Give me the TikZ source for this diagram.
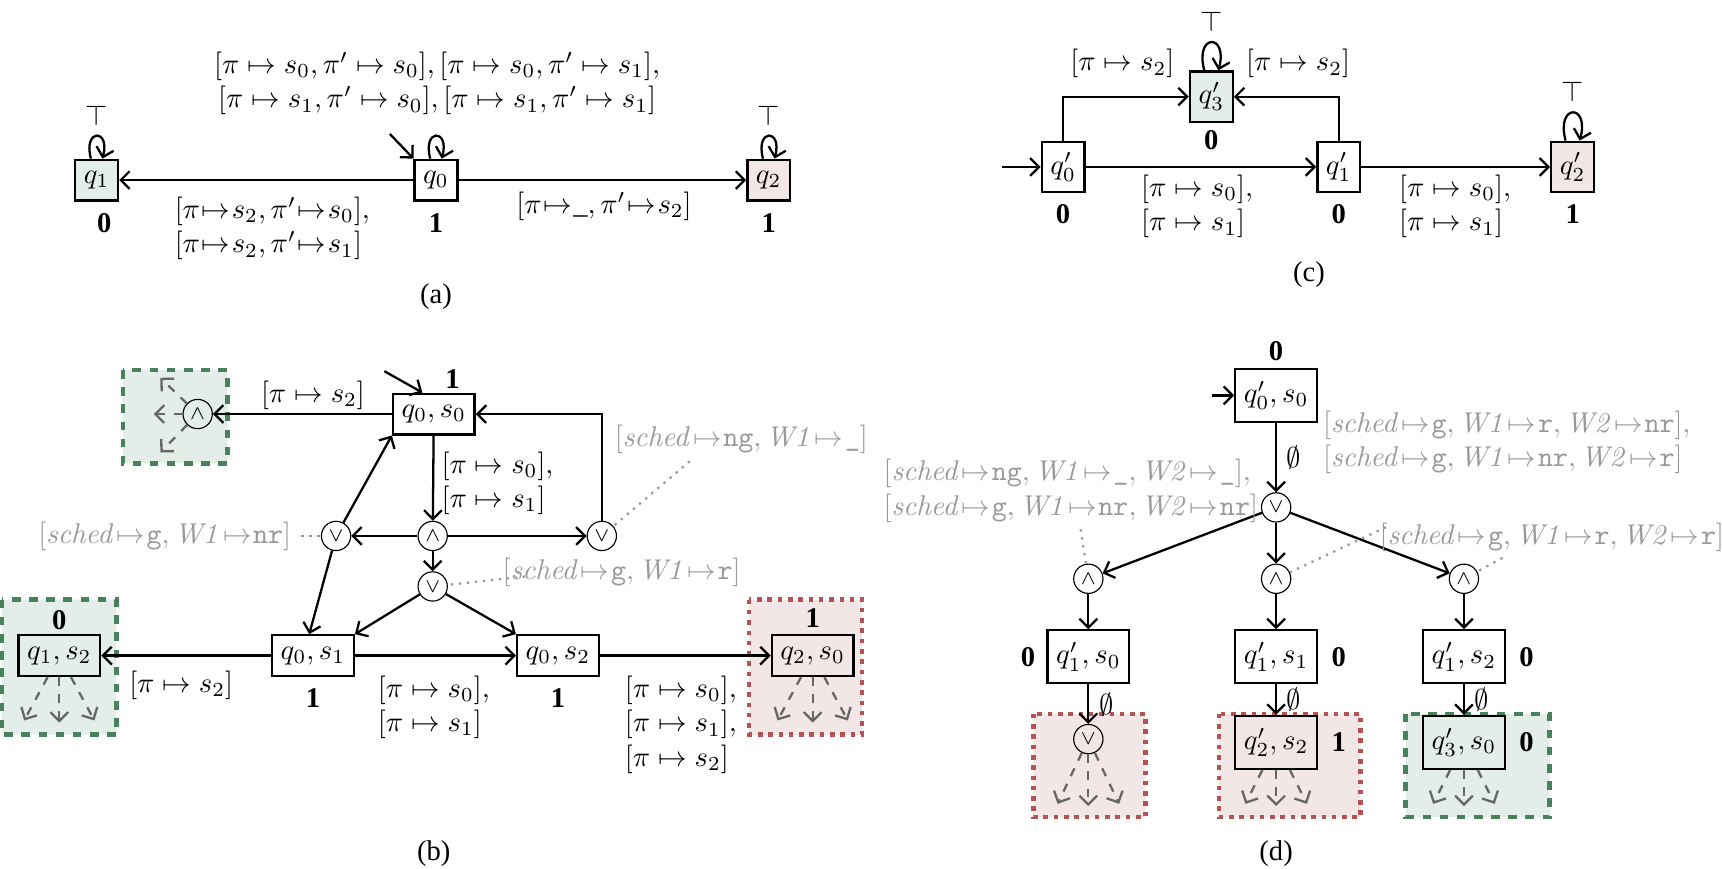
\documentclass[tikz,border=0pt]{standalone}
\usepackage{amsmath}
\usepackage[no-math]{fontspec}
\setmainfont{Liberation Serif}
\usetikzlibrary{arrows.meta}
\definecolor{gfill}{RGB}{228,238,232}
\definecolor{gline}{RGB}{72,130,92}
\definecolor{rfill}{RGB}{243,230,230}
\definecolor{rline}{RGB}{178,84,84}
\newcommand{\sch}{\mathit{sched}}
\newcommand{\gm}{\mathbin{\!\mapsto\!}}
\begin{document}
\begin{tikzpicture}[x=0.0135cm,y=-0.0135cm,>=Straight Barb,
  st/.style={draw,thick,rectangle,minimum height=0.5cm,inner sep=3pt},
  op/.style={draw,circle,minimum size=0.36cm,inner sep=0pt,font=\scriptsize},
  ed/.style={->,thick},
  gl/.style={text=black!40},
  dl/.style={dotted,thick,black!40},
  sub/.style={->,dashed,thick,black!60},
  w/.style={font=\bfseries}]
\useasboundingbox (0,0) rectangle (1568,791);

% ---------- (a)
\node[st,fill=gfill] (a1) at (88,164) {$q_1$};
\node[st] (a0) at (397,164) {$q_0$};
\node[st,fill=rfill] (a2) at (700,164) {$q_2$};
\node[w] (wa1) at (95,203) {0};
\node[w] (wa0) at (397,203) {1};
\node[w] (wa2) at (700,203) {1};
\coordinate (ai) at (355,122);
\draw[ed] (ai) -- (a0.north west);
\draw[ed] (a1) edge[loop above,looseness=7] node (ta1) {$\top$} (a1);
\draw[ed] (a2) edge[loop above,looseness=7] node (ta2) {$\top$} (a2);
\draw[ed] (a0) edge[loop above,looseness=7] (a0);
\draw[ed] (a0) -- (a1);
\draw[ed] (a0) -- (a2);
\node[align=center] (la0) at (398,76) {$[\pi\mapsto s_0,\pi'\mapsto s_0],[\pi\mapsto s_0,\pi'\mapsto s_1],$\\$[\pi\mapsto s_1,\pi'\mapsto s_0],[\pi\mapsto s_1,\pi'\mapsto s_1]$};
\node[align=left] (la1) at (248,208) {$[\pi\gm s_2,\pi'\gm s_0],$\\$[\pi\gm s_2,\pi'\gm s_1]$};
\node (la2) at (550,188) {$[\pi\gm \_,\pi'\gm s_2]$};
\node (capa) at (397,270) {(a)};

% ---------- (c)
\node[st,minimum height=0.62cm] (c0) at (968,152) {$q'_0$};
\node[st,minimum height=0.62cm,fill=gfill] (c3) at (1103,88) {$q'_3$};
\node[st,minimum height=0.62cm] (c1) at (1219,152) {$q'_1$};
\node[st,minimum height=0.62cm,fill=rfill] (c2) at (1432,152) {$q'_2$};
\node[w] (wc0) at (968,195) {0};
\node[w] (wc3) at (1103,128) {0};
\node[w] (wc1) at (1219,195) {0};
\node[w] (wc2) at (1432,195) {1};
\coordinate (ci) at (912,152);
\draw[ed] (ci) -- (c0);
\draw[ed] (c0) -- (c1);
\draw[ed] (c1) -- (c2);
\draw[ed] (c0) |- (c3);
\draw[ed] (c1) |- (c3);
\draw[ed] (c3) edge[loop above,looseness=7] node (tc3) {$\top$} (c3);
\draw[ed] (c2) edge[loop above,looseness=7] node (tc2) {$\top$} (c2);
\node (lc03) at (1022,58) {$[\pi\mapsto s_2]$};
\node (lc13) at (1182,58) {$[\pi\mapsto s_2]$};
\node[align=left] (lc01) at (1090,188) {$[\pi\mapsto s_0],$\\$[\pi\mapsto s_1]$};
\node[align=left] (lc12) at (1325,188) {$[\pi\mapsto s_0],$\\$[\pi\mapsto s_1]$};
\node (capc) at (1192,250) {(c)};

% ---------- (b)
\fill[gfill] (112,337) rectangle (207,422) (2,546) rectangle (106,669);
\fill[rfill] (682,546) rectangle (785,669);
\draw[gline,dashed,line width=1.6pt] (112,337) rectangle (207,422) (2,546) rectangle (106,669);
\draw[rline,dotted,line width=1.6pt] (682,546) rectangle (785,669);
\node[st] (b00) at (395,377) {$q_0,s_0$};
\node[st] (b01) at (285,597) {$q_0,s_1$};
\node[st] (b02) at (508,597) {$q_0,s_2$};
\node[st] (b12) at (54,597) {$q_1,s_2$};
\node[st] (b20) at (740,597) {$q_2,s_0$};
\node[op] (bat) at (180,377) {$\wedge$};
\node[op] (bol) at (306,488) {$\vee$};
\node[op] (bac) at (394,488) {$\wedge$};
\node[op] (bor) at (548,488) {$\vee$};
\node[op] (bod) at (394,534) {$\vee$};
\node[w] (wb00) at (412,345) {1};
\node[w] (wb01) at (285,636) {1};
\node[w] (wb02) at (508,636) {1};
\node[w] (wb12) at (54,565) {0};
\node[w] (wb20) at (740,563) {1};
\coordinate (bi) at (350,338);
\draw[ed] (bi) -- (b00.118);
\draw[ed] (b00) -- (bat);
\draw[ed] (b00) -- (bac);
\draw[ed] (bac) -- (bol);
\draw[ed] (bac) -- (bor);
\draw[ed] (bac) -- (bod);
\draw[ed] (bor) |- (b00);
\draw[ed] (bol) -- (b00.south west);
\draw[ed] (bol) -- (b01.100);
\draw[ed] (bod) -- (b01.north east);
\draw[ed] (bod) -- (b02.north west);
\draw[ed] (b01) -- (b12);
\draw[ed] (b01) -- (b02);
\draw[ed] (b02) -- (b20);
\node (lb1) at (285,360) {$[\pi\mapsto s_2]$};
\node[align=left] (lb2) at (453,440) {$[\pi\mapsto s_0],$\\$[\pi\mapsto s_1]$};
\node (lb3) at (165,624) {$[\pi\mapsto s_2]$};
\node[align=left] (lb4) at (395,644) {$[\pi\mapsto s_0],$\\$[\pi\mapsto s_1]$};
\node[align=left] (lb5) at (620,660) {$[\pi\mapsto s_0],$\\$[\pi\mapsto s_1],$\\$[\pi\mapsto s_2]$};
\node[gl] (gb1) at (150,488) {$[\sch\gm\texttt{g},\mathit{W1}\gm\texttt{nr}]$};
\node[gl] (gb2) at (675,400) {$[\sch\gm\texttt{ng},\mathit{W1}\gm\texttt{\_}]$};
\node[gl] (gb3) at (566,521) {$[\sch\gm\texttt{g},\mathit{W1}\gm\texttt{r}]$};
\coordinate (gb2e) at (628,420);
\coordinate (gb3e) at (478,525);
\draw[dl] (gb1) -- (bol);
\draw[dl] (gb2e) -- (bor);
\draw[dl] (gb3e) -- (bod);
\coordinate (s1) at (146,344); \coordinate (s2) at (140,377); \coordinate (s3) at (146,412);
\draw[sub] (bat) -- (s1); \draw[sub] (bat) -- (s2); \draw[sub] (bat) -- (s3);
\coordinate (s4) at (22,656); \coordinate (s5) at (54,658); \coordinate (s6) at (86,656);
\draw[sub] (b12) -- (s4); \draw[sub] (b12) -- (s5); \draw[sub] (b12) -- (s6);
\coordinate (s7) at (708,656); \coordinate (s8) at (740,658); \coordinate (s9) at (772,656);
\draw[sub] (b20) -- (s7); \draw[sub] (b20) -- (s8); \draw[sub] (b20) -- (s9);
\node (capb) at (395,777) {(b)};

% ---------- (d)
\fill[rfill] (941,650) rectangle (1043,744) (1110,650) rectangle (1239,744);
\fill[gfill] (1280,650) rectangle (1411,744);
\draw[rline,dotted,line width=1.6pt] (941,650) rectangle (1043,744) (1110,650) rectangle (1239,744);
\draw[gline,dashed,line width=1.6pt] (1280,650) rectangle (1411,744);
\node[st,minimum height=0.65cm] (d0) at (1162,360) {$q'_0,s_0$};
\node[op] (dor) at (1162,462) {$\vee$};
\node[op] (da0) at (991,527) {$\wedge$};
\node[op] (da1) at (1162,527) {$\wedge$};
\node[op] (da2) at (1333,527) {$\wedge$};
\node[st,minimum height=0.65cm] (d10) at (991,598) {$q'_1,s_0$};
\node[st,minimum height=0.65cm] (d11) at (1162,598) {$q'_1,s_1$};
\node[st,minimum height=0.65cm] (d12) at (1333,598) {$q'_1,s_2$};
\node[op] (dob) at (991,673) {$\vee$};
\node[st,minimum height=0.65cm] (d22) at (1162,676) {$q'_2,s_2$};
\node[st,minimum height=0.65cm] (d30) at (1333,676) {$q'_3,s_0$};
\node[w] (wd0) at (1162,320) {0};
\node[w] (wd10) at (936,598) {0};
\node[w] (wd11) at (1219,598) {0};
\node[w] (wd12) at (1390,598) {0};
\node[w] (wd22) at (1219,676) {1};
\node[w] (wd30) at (1390,676) {0};
\coordinate (di) at (1104,360);
\draw[ed] (di) -- (d0);
\draw[ed] (d0) -- node[right] (le0) {$\emptyset$} (dor);
\draw[ed] (dor) -- (da0);
\draw[ed] (dor) -- (da1);
\draw[ed] (dor) -- (da2);
\draw[ed] (da0) -- (d10);
\draw[ed] (da1) -- (d11);
\draw[ed] (da2) -- (d12);
\draw[ed] (d10) -- node[right] (le1) {$\emptyset$} (dob);
\draw[ed] (d11) -- node[right] (le2) {$\emptyset$} (d22);
\draw[ed] (d12) -- node[right] (le3) {$\emptyset$} (d30);
\node[gl,align=left] (gd1) at (975,447) {$[\sch\gm\texttt{ng},\mathit{W1}\gm\texttt{\_},\mathit{W2}\gm\texttt{\_}],$\\$[\sch\gm\texttt{g},\mathit{W1}\gm\texttt{nr},\mathit{W2}\gm\texttt{nr}]$};
\node[gl,align=left] (gd2) at (1372,403) {$[\sch\gm\texttt{g},\mathit{W1}\gm\texttt{r},\mathit{W2}\gm\texttt{nr}],$\\$[\sch\gm\texttt{g},\mathit{W1}\gm\texttt{nr},\mathit{W2}\gm\texttt{r}]$};
\node[gl] (gd3) at (1413,489) {$[\sch\gm\texttt{g},\mathit{W1}\gm\texttt{r},\mathit{W2}\gm\texttt{r}]$};
\coordinate (gd1e) at (984,482);
\coordinate (gd2e) at (1262,480);
\coordinate (gd3e) at (1368,508);
\draw[dl] (gd1e) -- (da0);
\draw[dl] (gd2e) -- (da1);
\draw[dl] (gd3e) -- (da2);
\foreach \n/\x in {dob/991,d22/1162,d30/1333}{
  \coordinate (\n l) at (\x-28,732); \coordinate (\n m) at (\x,734); \coordinate (\n r) at (\x+28,732);
  \draw[sub] (\n) -- (\n l); \draw[sub] (\n) -- (\n m); \draw[sub] (\n) -- (\n r);
}
\node (capd) at (1162,777) {(d)};
\end{tikzpicture}
\end{document}
